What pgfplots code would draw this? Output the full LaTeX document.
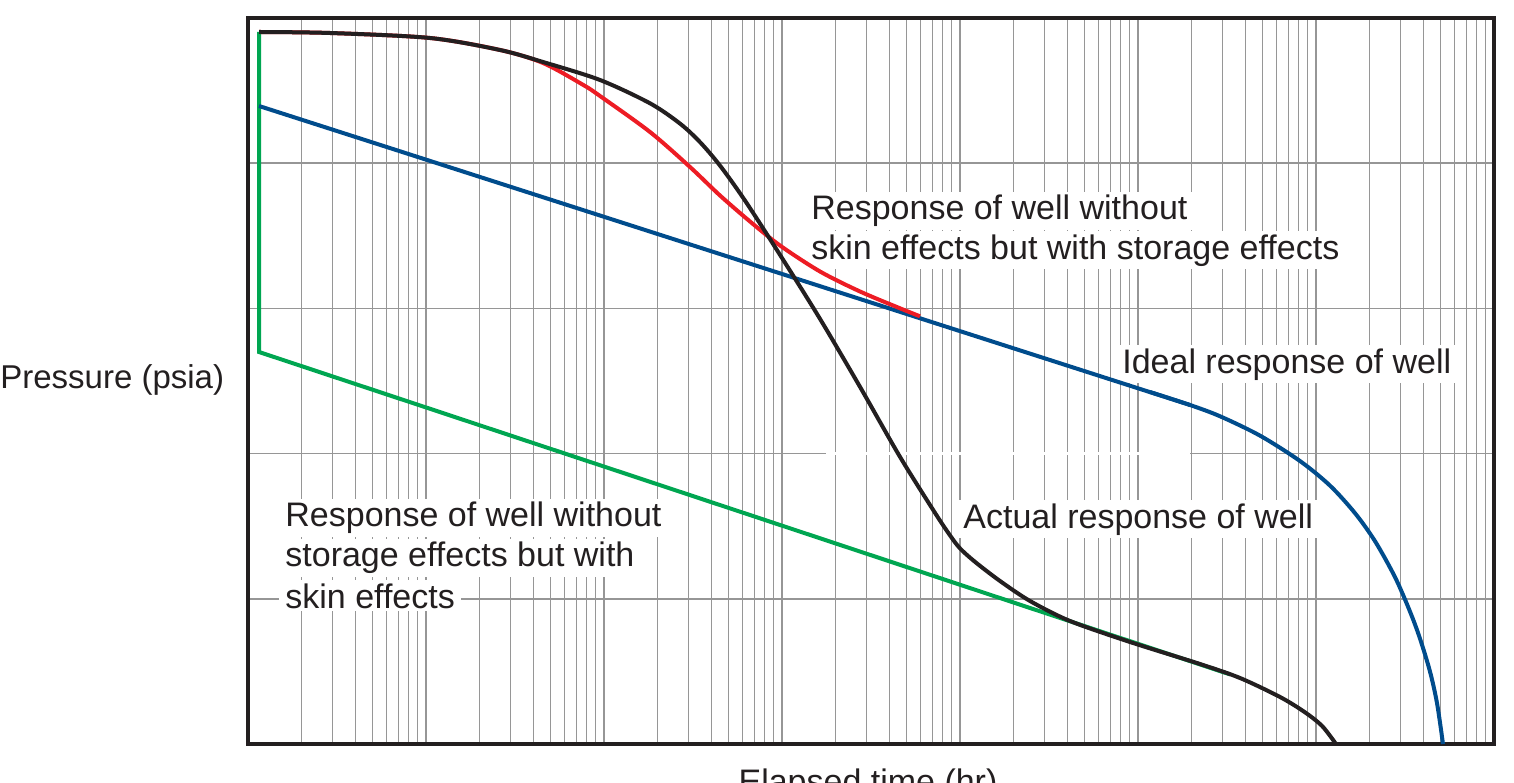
\documentclass[border=0pt]{standalone}
\usepackage{pgfplots}
\pgfplotsset{compat=1.18}
\usepackage{fontspec}
\setmainfont{Liberation Sans}
\definecolor{gridgray}{RGB}{150,150,150}
\definecolor{cgreen}{RGB}{0,166,81}
\definecolor{cblue}{RGB}{0,76,140}
\definecolor{cred}{RGB}{237,28,36}
\definecolor{cblack}{RGB}{35,31,32}
\tikzset{lbl/.style={font=\fontsize{17}{20}\selectfont, text=cblack, fill=white,
    inner xsep=3pt, inner ysep=1.5pt, anchor=base west, xshift=-3pt}}
\begin{document}
\begin{tikzpicture}
\begin{axis}[
  scale only axis, width=623pt, height=363pt,
  at={(0,0)}, anchor=south west,
  xmode=log, log basis x=10,
  xmin=1, xmax=1e7, ymin=0, ymax=726,
  xtick={1,1e1,1e2,1e3,1e4,1e5,1e6,1e7},
  minor xtick={2,3,4,5,6,7,8,9,
    2e1,3e1,4e1,5e1,6e1,7e1,8e1,9e1,
    2e2,3e2,4e2,5e2,6e2,7e2,8e2,9e2,
    2e3,3e3,4e3,5e3,6e3,7e3,8e3,9e3,
    2e4,3e4,4e4,5e4,6e4,7e4,8e4,9e4,
    2e5,3e5,4e5,5e5,6e5,7e5,8e5,9e5,
    2e6,3e6,4e6,5e6,6e6,7e6,8e6,9e6},
  ytick={145.2,290.4,435.6,580.8},
  xticklabels={}, yticklabels={},
  major tick length=0pt, minor tick length=0pt,
  grid=both,
  major grid style={draw=gridgray, line width=0.8pt},
  minor grid style={draw=gridgray, line width=0.45pt},
  axis line style={draw=cblack, line width=1.8pt},
]
\draw[white, line width=1.2pt] (axis cs:1766,290.4) -- (axis cs:1.96e5,290.4);
\node[lbl] at (rel axis cs:0.4518,0.7218) {Response of well without};
\node[lbl] at (rel axis cs:0.4518,0.6680) {skin effects but with storage effects};
\node[lbl] at (rel axis cs:0.7014,0.5110) {Ideal response of well};
\node[lbl] at (rel axis cs:0.5738,0.2975) {Actual response of well};
\node[lbl] at (rel axis cs:0.0297,0.2989) {Response of well without};
\node[lbl] at (rel axis cs:0.0297,0.2438) {storage effects but with};
\node[lbl] at (rel axis cs:0.0297,0.1873) {skin effects};
% green: without storage, with skin
\addplot[cgreen, line width=2pt] coordinates {
  (1.153,712) (1.153,392) (3.289e5,69.6)
};
% blue: ideal (straight part, then bend)
\addplot[cblue, line width=2pt] coordinates {
  (1.153,638) (1.960e5,339)
};
\addplot[cblue, line width=2pt, smooth] coordinates {
  (1.168e5,352) (1.960e5,339) (2.888e5,327.75) (4.847e5,308.35)
  (8.132e5,282.95) (1.199e6,258.35) (1.656e6,230.85) (2.145e6,202.85)
  (2.779e6,166.85) (3.375e6,132.35) (3.840e6,105.35) (4.370e6,72.35)
  (4.784e6,40.85) (5.169e6,0)
};
% red: without skin, with storage
\addplot[cred, line width=2pt, smooth] coordinates {
  (1.153,712) (2.888,711) (10.53,706) (26.05,694) (45.43,681) (76.56,659)
  (94.95,648) (181.3,612) (304.2,577) (448.4,548.5) (661.1,522.5)
  (974.5,498.5) (1635,472.5) (2743,452.5) (4601,435.7) (5961,427.7)
};
% black: actual
\addplot[cblack, line width=2pt, smooth] coordinates {
  (1.153,712) (2.888,711) (10.53,706) (26.05,694) (45.43,682) (94.95,664)
  (181.3,640.7) (267.3,620.4) (346.2,601.9) (448.4,578.4) (619.7,543.4)
  (974.5,489.15) (1635,425.15) (2743,357.15) (4601,287.15) (7237,231.15)
  (8786,208.65) (10000,195.65) (12140,182.15) (16780,163) (24740,143)
  (41500,123) (90180,102) (2.230e5,80) (3.741e5,66) (6.279e5,47)
  (8.622e5,32) (1.082e6,18) (1.295e6,0)
};
\end{axis}
\node[font=\fontsize{16.5}{20}\selectfont, text=cblack, anchor=west, inner sep=0pt] at (-124pt,182pt) {Pressure (psia)};
\node[font=\fontsize{17}{20}\selectfont, text=cblack, anchor=north, inner sep=0pt] at (310pt,-12pt) {Elapsed time (hr)};
\pgfresetboundingbox
\path[use as bounding box] (-124pt,-19pt) rectangle (633pt,372pt);
\end{tikzpicture}
\end{document}
